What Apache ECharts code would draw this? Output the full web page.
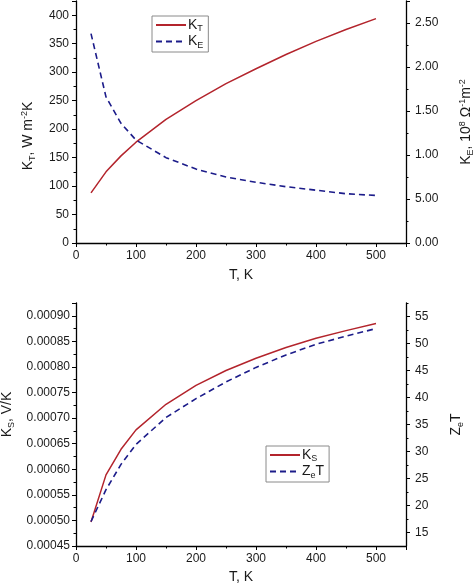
<!DOCTYPE html>
<html>
<head>
<meta charset="utf-8">
<script src="https://cdn.jsdelivr.net/npm/echarts@6/dist/echarts.min.js"></script>
<style>
  html, body { margin: 0; padding: 0; background: #fff; }
  #chart { width: 474px; height: 587px; }
</style>
</head>
<body>
<div id="chart"></div>
<script>
// temperature points, K
const temps = [25, 50, 75, 100, 150, 200, 250, 300, 350, 400, 450, 500]
// top panel
const kT = [88, 125, 153, 177, 217, 250, 280, 306, 331, 354, 375, 394]
const kE = [2.38, 1.66, 1.36, 1.17, 0.97, 0.84, 0.75, 0.69, 0.64, 0.60, 0.56, 0.54]
// bottom panel
const kS = [0.000497, 0.000589, 0.000639, 0.000677, 0.000727, 0.000764, 0.000793, 0.000817, 0.000838, 0.000856, 0.000871, 0.000885]
const zeT = [17.0, 22.9, 27.6, 31.3, 36.3, 39.8, 42.9, 45.6, 47.9, 49.9, 51.4, 52.8]
// tick labels of the right top axis (as printed in the figure)
const kERightLabels = ['0.00', '5.00', '1.00', '1.50', '2.00', '2.50']
const zeTTicks = [15, 20, 25, 30, 35, 40, 45, 50, 55]
const zeTMinor = [17.5, 22.5, 27.5, 32.5, 37.5, 42.5, 47.5, 52.5, 57.5]

const RED = '#b3242c'
const BLUE = '#1c1c8a'
const FONT = 'Liberation Sans'
const TXT = '#1a1a1a'

const pair = (xs, ys) => xs.map((x, i) => [x, ys[i]])

const chart = echarts.init(document.getElementById('chart'))

const lbl = { color: TXT, fontFamily: FONT, fontSize: 12 }
const axLine = { show: true, lineStyle: { color: '#000', width: 1.3 } }
const tick = { show: true, length: 4, lineStyle: { color: '#000', width: 1 } }
const minor = { show: true, splitNumber: 2, length: 2.5, lineStyle: { color: '#000', width: 1 } }

// rich styles for axis names / legends
const rich = {
  a: { fontFamily: FONT, fontSize: 14, color: TXT },
  sub: { fontFamily: FONT, fontSize: 9, color: TXT, padding: [8, 0, 0, 0] },
  sup: { fontFamily: FONT, fontSize: 9, color: TXT, padding: [0, 0, 8, 0] }
}
const nameStyle = { fontFamily: FONT, fontSize: 14, color: TXT, rich: rich }

const legendNames = {
  KT: '{a|K}{sub|T}',
  KE: '{a|K}{sub|E}',
  KS: '{a|K}{sub|S}',
  ZeT: '{a|Z}{sub|e}{a|T}'
}

function xAxis(gridIndex, nameGap) {
  return {
    type: 'value', gridIndex: gridIndex, min: 0, max: 550, interval: 100,
    name: 'T, K', nameLocation: 'middle', nameGap: nameGap,
    nameTextStyle: { fontFamily: FONT, fontSize: 14, color: TXT },
    axisLine: axLine, axisTick: tick, minorTick: minor,
    axisLabel: Object.assign({ margin: 7, showMaxLabel: false }, lbl),
    splitLine: { show: false }
  }
}

function legend(left, top, names) {
  return {
    left: left, top: top, orient: 'vertical', itemWidth: 30, itemHeight: 10, itemGap: 1,
    padding: [2, 5, 2, 3], borderColor: '#8a8a8a', borderWidth: 1,
    itemStyle: { opacity: 0 },
    data: names, formatter: n => legendNames[n],
    textStyle: { rich: rich, padding: [0, 0, 0, -3] }
  }
}

const option = {
  animation: false,
  backgroundColor: '#fff',
  grid: [
    { left: 76, right: 68, top: 1, height: 242, outerBoundsMode: 'none' },
    { left: 76, right: 68, top: 303, height: 243, outerBoundsMode: 'none' }
  ],
  xAxis: [xAxis(0, 25), xAxis(1, 24)],
  yAxis: [
    {
      type: 'value', gridIndex: 0, position: 'left', min: 0, max: 425, interval: 50,
      name: '{a|K}{sub|T}{a|, W m}{sup|-2}{a|K}', nameLocation: 'middle', nameRotate: 90, nameGap: 39,
      nameTextStyle: Object.assign({ padding: [0, 28, 0, 0] }, nameStyle),
      axisLine: axLine, axisTick: tick, minorTick: minor,
      axisLabel: Object.assign({ margin: 7, showMaxLabel: false }, lbl),
      splitLine: { show: false }
    },
    {
      type: 'value', gridIndex: 0, position: 'right', min: 0, max: 2.75, interval: 0.5,
      name: '{a|K}{sub|E}{a|, 10}{sup|8}{a| Ω}{sup|-1}{a|m}{sup|-2}', nameLocation: 'middle', nameRotate: 90, nameGap: 52,
      nameTextStyle: nameStyle,
      axisLine: axLine, axisTick: tick, minorTick: minor,
      axisLabel: Object.assign({
        margin: 9, showMaxLabel: false,
        formatter: v => kERightLabels[Math.round(v / 0.5)] || ''
      }, lbl),
      splitLine: { show: false }
    },
    {
      type: 'value', gridIndex: 1, position: 'left', min: 0.00045, max: 0.000925, interval: 0.00005,
      name: '{a|K}{sub|S}{a|, V/K}', nameLocation: 'middle', nameRotate: 90, nameGap: 57,
      nameTextStyle: Object.assign({ padding: [0, 0, 0, 20] }, nameStyle),
      axisLine: axLine, axisTick: tick, minorTick: minor,
      axisLabel: Object.assign({ margin: 6, showMaxLabel: false, formatter: v => v.toFixed(5) }, lbl),
      splitLine: { show: false }
    },
    {
      type: 'value', gridIndex: 1, position: 'right', min: 12.45, max: 57.55,
      name: '{a|Z}{sub|e}{a|T}', nameLocation: 'middle', nameRotate: 90, nameGap: 42,
      nameTextStyle: nameStyle,
      axisLine: axLine,
      axisTick: Object.assign({ customValues: zeTTicks }, tick),
      axisLabel: Object.assign({ margin: 9, customValues: zeTTicks }, lbl),
      splitLine: { show: false }
    },
    {
      // minor ticks of the Z_eT axis
      type: 'value', gridIndex: 1, position: 'right', min: 12.45, max: 57.55,
      axisLine: { show: false },
      axisTick: { show: true, length: 2.5, customValues: zeTMinor, lineStyle: { color: '#000', width: 1 } },
      axisLabel: { show: false },
      splitLine: { show: false }
    }
  ],
  legend: [legend(152, 16, ['KT', 'KE']), legend(266, 446, ['KS', 'ZeT'])],
  series: [
    {
      name: 'KT', type: 'line', xAxisIndex: 0, yAxisIndex: 0, symbol: 'none',
      data: pair(temps, kT), lineStyle: { color: RED, width: 1.5 }, itemStyle: { color: RED }
    },
    {
      name: 'KE', type: 'line', xAxisIndex: 0, yAxisIndex: 1, symbol: 'none',
      data: pair(temps, kE), lineStyle: { color: BLUE, width: 1.6, type: [6, 4] }, itemStyle: { color: BLUE }
    },
    {
      name: 'KS', type: 'line', xAxisIndex: 1, yAxisIndex: 2, symbol: 'none',
      data: pair(temps, kS), lineStyle: { color: RED, width: 1.5 }, itemStyle: { color: RED }
    },
    {
      name: 'ZeT', type: 'line', xAxisIndex: 1, yAxisIndex: 3, symbol: 'none',
      data: pair(temps, zeT), lineStyle: { color: BLUE, width: 1.6, type: [6, 4] }, itemStyle: { color: BLUE }
    }
  ]
}

chart.setOption(option)
</script>
</body>
</html>
